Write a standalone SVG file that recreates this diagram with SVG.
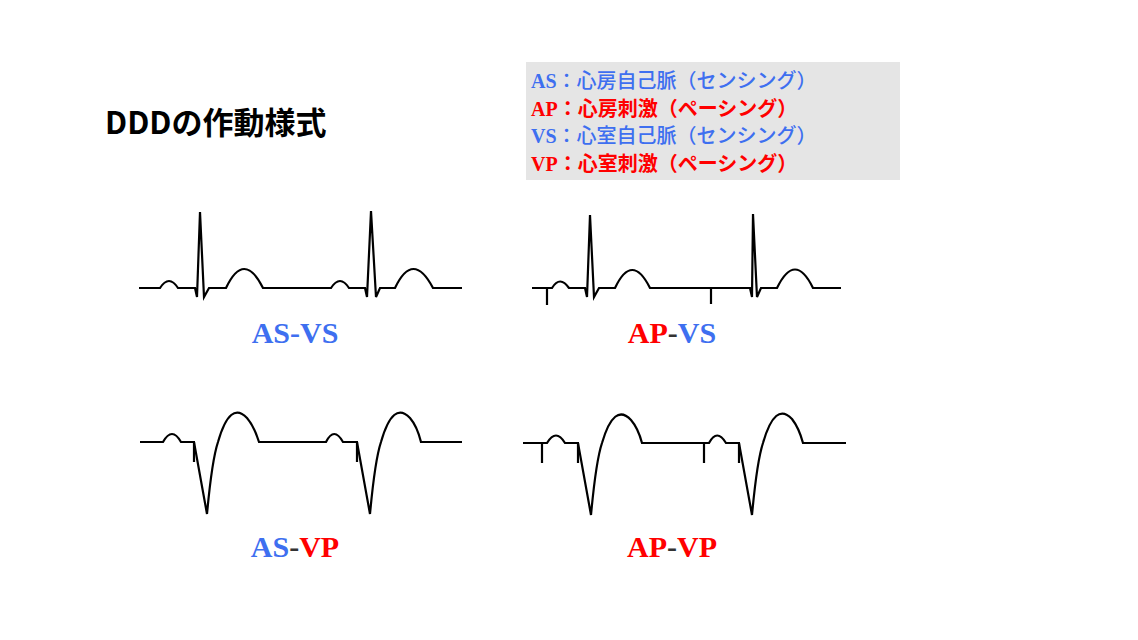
<svg xmlns="http://www.w3.org/2000/svg" width="1138" height="640" viewBox="0 0 1138 640">
<style>
.w{fill:none;stroke:#000;stroke-width:2.2;stroke-linejoin:miter}
.lbl{font-family:"Liberation Serif",serif;font-weight:bold;font-size:30px;text-anchor:middle}
.lg{font-size:20px}
.lt{font-family:"Liberation Serif",serif;font-weight:bold}
.jp{font-family:"Noto Sans CJK JP",sans-serif}
.b{fill:#3e6ff0}.r{fill:#ff0000}.k{fill:#333}
</style>
<rect width="1138" height="640" fill="#fff"/>
<text x="105" y="134" font-family="Noto Sans CJK JP,sans-serif" font-weight="bold" font-size="31" fill="#000">DDDの作動様式</text>
<g id="legend">
<rect x="526" y="62" width="374" height="118" fill="#e5e5e5"/>
<text x="531" y="88" class="lg b"><tspan class="lt">AS</tspan><tspan class="jp" font-weight="500">：心房自己脈（センシング）</tspan></text>
<text x="531" y="116" class="lg r"><tspan class="lt">AP</tspan><tspan class="jp" font-weight="bold">：心房刺激（ペーシング）</tspan></text>
<text x="531" y="143" class="lg b"><tspan class="lt">VS</tspan><tspan class="jp" font-weight="500">：心室自己脈（センシング）</tspan></text>
<text x="531" y="171" class="lg r"><tspan class="lt">VP</tspan><tspan class="jp" font-weight="bold">：心室刺激（ペーシング）</tspan></text>
</g>
<g id="asvs">
<path class="w" d="M139 288H160Q169 274 178 288H195L197 297L200 212L204 297L209 288H226Q244 250 263 288H331Q340 274 349 288H365L367 297L371 211L376 297L380 288H395Q413 250 433 288H462"/>
<text x="295" y="343" class="lbl b">AS-VS</text>
</g>
<g id="apvs">
<path class="w" d="M532 288H552Q560 275 569 288H585L587 297L590 215L594 297L599 288H615Q632 252 650 288H750L752 297L753 214L757 297L761 288H777Q795 251 813 288H841"/>
<path class="w" d="M547 288V305M711 288V304"/>
<text x="672" y="343" class="lbl"><tspan class="r">AP</tspan><tspan class="k">-</tspan><tspan class="b">VS</tspan></text>
</g>
<g id="asvp">
<path class="w" d="M140 442H163Q172 426 181 442H194L207 514Q212 460 218 442Q230 400 247 418Q254 426 259 442H326Q334 426 343 442H357L370 514Q375 460 381 442Q393 400 410 418Q417 426 421 442H462"/>
<path class="w" d="M194 442V462M357 442V462"/>
<text x="295" y="557" class="lbl"><tspan class="b">AS</tspan><tspan class="k">-</tspan><tspan class="r">VP</tspan></text>
</g>
<g id="apvp">
<path class="w" d="M523 443H547Q556 428 565 443H578L591 515Q596 461 602 443Q614 402 631 420Q638 428 642 443H709Q717 428 726 443H739L752 515Q757 461 763 443Q775 401 792 419Q799 428 803 443H846"/>
<path class="w" d="M542 443V463M578 443V463M704 443V463M739 443V463"/>
<text x="672" y="557" class="lbl"><tspan class="r">AP</tspan><tspan class="k">-</tspan><tspan class="r">VP</tspan></text>
</g>
</svg>
